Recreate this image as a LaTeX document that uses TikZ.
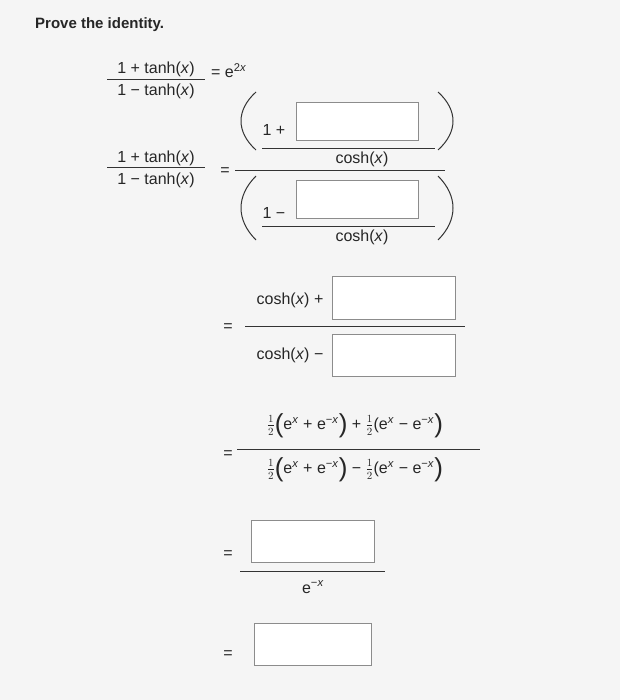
\documentclass[tikz,border=0pt]{standalone}
\usepackage{fontspec}
\setmainfont{Liberation Sans}
\begin{document}
\begin{tikzpicture}[x=1pt,y=-1pt,
  txt/.style={font=\fontsize{16}{18}\selectfont,inner sep=0pt,text=black!85},
  ansbox/.style={draw=black!45,line width=0.8pt,fill=white},
  bar/.style={draw=black!80,line width=0.7pt},
  paren/.style={draw=black!80,line width=1pt}]
\fill[black!4] (0,0) rectangle (620,700);
\useasboundingbox (0,0) rectangle (620,700);
\node[txt,anchor=west,font=\bfseries\fontsize{15}{17}\selectfont] (title) at (35,25) {Prove the identity.};
% first identity
\node[txt] (n1) at (156,69) {1 + tanh(\textit{x})};
\draw[bar] (107,79) -- (205,79);
\node[txt] (d1) at (156,91) {1 − tanh(\textit{x})};
\node[txt,anchor=west] (r1) at (211,71) {= e\textsuperscript{2\textit{x}}};
% second
\node[txt] (n2) at (156,158) {1 + tanh(\textit{x})};
\draw[bar] (107,167) -- (205,167);
\node[txt] (d2) at (156,180) {1 − tanh(\textit{x})};
\node[txt] (e2) at (225,172) {=};
\coordinate (lp1a) at (256,92); \coordinate (lp1b) at (256,150);
\draw[paren] (lp1a) .. controls (236,110) and (236,132) .. (lp1b);
\coordinate (rp1a) at (438,92); \coordinate (rp1b) at (438,150);
\draw[paren] (rp1a) .. controls (458,110) and (458,132) .. (rp1b);
\node[txt] (o1) at (274,130) {1 +};
\node[ansbox,minimum width=122,minimum height=38,inner sep=0pt] (b1) at (357,121) {};
\draw[bar] (262,148) -- (435,148);
\node[txt] (c1) at (362,159) {cosh(\textit{x})};
\draw[bar] (235,170) -- (445,170);
\coordinate (lp2a) at (256,176); \coordinate (lp2b) at (256,240);
\draw[paren] (lp2a) .. controls (236,196) and (236,220) .. (lp2b);
\coordinate (rp2a) at (438,176); \coordinate (rp2b) at (438,240);
\draw[paren] (rp2a) .. controls (458,196) and (458,220) .. (rp2b);
\node[txt] (o2) at (274,213) {1 −};
\node[ansbox,minimum width=122,minimum height=38,inner sep=0pt] (b2) at (357,199) {};
\draw[bar] (262,226) -- (435,226);
\node[txt] (c2) at (362,237) {cosh(\textit{x})};
% third
\node[txt] (e3) at (228,328) {=};
\node[txt] (t3a) at (290,300) {cosh(\textit{x}) +};
\node[ansbox,minimum width=123,minimum height=43,inner sep=0pt] (b3) at (394,298) {};
\draw[bar] (245,326) -- (465,326);
\node[txt] (t3b) at (290,355) {cosh(\textit{x}) −};
\node[ansbox,minimum width=123,minimum height=42,inner sep=0pt] (b4) at (394,355) {};
% fourth
\node[txt] (e4) at (228,455) {=};
\node[txt] (n4) at (355,426) {$\frac{1}{2}$\raisebox{-3pt}{\fontsize{26}{26}\selectfont(}e\textsuperscript{\textit{x}} + e\textsuperscript{−\textit{x}}\raisebox{-3pt}{\fontsize{26}{26}\selectfont)} + $\frac{1}{2}$(e\textsuperscript{\textit{x}} − e\textsuperscript{−\textit{x}}\raisebox{-3pt}{\fontsize{26}{26}\selectfont)}};
\draw[bar] (237,449) -- (480,449);
\node[txt] (d4) at (355,470) {$\frac{1}{2}$\raisebox{-3pt}{\fontsize{26}{26}\selectfont(}e\textsuperscript{\textit{x}} + e\textsuperscript{−\textit{x}}\raisebox{-3pt}{\fontsize{26}{26}\selectfont)} − $\frac{1}{2}$(e\textsuperscript{\textit{x}} − e\textsuperscript{−\textit{x}}\raisebox{-3pt}{\fontsize{26}{26}\selectfont)}};
% fifth
\node[txt] (e5) at (228,555) {=};
\node[ansbox,minimum width=123,minimum height=42,inner sep=0pt] (b5) at (313,541) {};
\draw[bar] (240,571) -- (385,571);
\node[txt] (d5) at (313,587) {e\textsuperscript{−\textit{x}}};
% sixth
\node[txt] (e6) at (228,655) {=};
\node[ansbox,minimum width=117,minimum height=42,inner sep=0pt] (b6) at (313,644) {};
\end{tikzpicture}
\end{document}
